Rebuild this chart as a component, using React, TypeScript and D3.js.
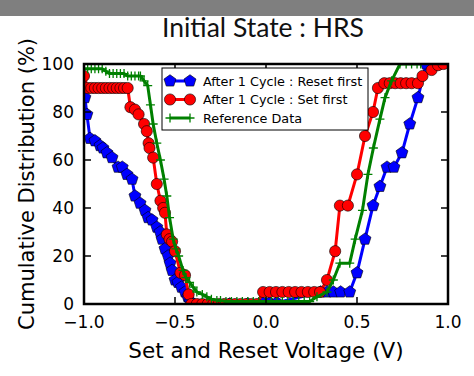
import React from "react";
import * as d3 from "d3";

const xTicks = [-1.0, -0.5, 0.0, 0.5, 1.0];
const yTicks = [0, 20, 40, 60, 80, 100];

const blueX = [-0.995, -0.984, -0.967, -0.94, -0.912, -0.896, -0.874, -0.846, -0.813, -0.79, -0.764, -0.736, -0.72, -0.692, -0.665, -0.648, -0.626, -0.6, -0.582, -0.571, -0.555, -0.538, -0.527, -0.516, -0.5, -0.484, -0.465, -0.445, -0.43, -0.415, -0.4, -0.3, -0.2, -0.1, -0.02, 0.02, 0.06, 0.3, 0.335, 0.37, 0.41, 0.46, 0.5, 0.544, 0.588, 0.626, 0.665, 0.703, 0.747, 0.79, 0.835, 0.88];
const blueY = [86, 79, 69, 68, 66, 65, 63, 61, 57, 57, 54, 52, 45, 42, 39, 36, 35, 32, 30, 27, 23, 20, 17, 14, 10, 9, 7, 5, 3, 1, 0, 0, 0, 0, 0.5, 0.5, 0.5, 5, 5, 5, 5, 5, 13, 27, 41, 49, 57, 57, 63, 75, 86, 100];

const redX = [-1.0, -0.98, -0.96, -0.94, -0.92, -0.9, -0.88, -0.86, -0.84, -0.82, -0.8, -0.78, -0.76, -0.745, -0.72, -0.7, -0.67, -0.655, -0.645, -0.64, -0.62, -0.6, -0.58, -0.565, -0.555, -0.545, -0.53, -0.516, -0.5, -0.47, -0.445, -0.425, -0.41, -0.38, -0.35, -0.32, -0.29, -0.26, -0.23, -0.2, -0.17, -0.14, -0.11, -0.08, -0.05, -0.016, 0.02, 0.055, 0.09, 0.125, 0.16, 0.195, 0.23, 0.265, 0.297, 0.335, 0.38, 0.406, 0.45, 0.5, 0.544, 0.588, 0.615, 0.65, 0.68, 0.71, 0.74, 0.77, 0.8, 0.835, 0.86, 0.91, 0.945, 0.975];
const redY = [95, 90, 90, 90, 90, 90, 90, 90, 90, 90, 90, 90, 90, 82, 81, 79, 75, 72, 67, 65, 61, 50, 43, 40, 38, 29, 27, 26, 22, 13, 12, 4, 0, 0, 0, 0, 0, 0, 0, 0, 0, 0, 0, 0, 0, 5, 5, 5, 5, 5, 5, 5, 5, 5, 5, 10, 22, 41, 41, 54, 70, 80, 90, 92, 92, 92, 92, 92, 92, 92, 95, 97.5, 99.5, 100];

const greenX = [-1.0, -0.98, -0.96, -0.94, -0.92, -0.9, -0.88, -0.86, -0.84, -0.82, -0.8, -0.78, -0.76, -0.74, -0.72, -0.7, -0.69, -0.67, -0.65, -0.635, -0.62, -0.6, -0.58, -0.56, -0.545, -0.53, -0.51, -0.495, -0.48, -0.456, -0.44, -0.42, -0.4, -0.38, -0.35, -0.325, -0.3, -0.27, -0.25, -0.22, -0.19, -0.16, -0.13, -0.1, -0.07, -0.04, 0.0, 0.03, 0.06, 0.09, 0.12, 0.15, 0.18, 0.21, 0.24, 0.28, 0.335, 0.37, 0.406, 0.46, 0.49, 0.53, 0.56, 0.59, 0.626, 0.654, 0.69, 0.736, 0.77, 0.8, 0.83, 0.85];
const greenY = [98, 98, 98, 98, 98, 98, 97, 96, 96, 96, 96, 96, 95, 95, 95, 95, 95, 93, 91, 83, 75, 67, 60, 52, 45, 36, 27, 23, 20, 14, 11, 9, 7, 5, 4, 3, 2, 1.5, 1.5, 1, 1, 1, 1, 1, 1, 1, 1, 1, 1, 1, 1, 1, 1, 1, 1, 3, 5, 10, 17, 17, 27, 39, 54, 65, 77, 86, 93, 100, 100, 100, 100, 100];

const W = 474;
const H = 376;
const L = 84, R = 448, T = 64, B = 304;

const x = d3.scaleLinear().domain([-1, 1]).range([L, R]);
const y = d3.scaleLinear().domain([0, 100]).range([B, T]);

const BLUE = "#0000ff";
const RED = "#ff0000";
const GREEN = "#008000";
const TICK_FONT = "DejaVu Sans, sans-serif";

function pentagon(cx: number, cy: number, r: number) {
  const pts: string[] = [];
  for (let i = 0; i < 5; i++) {
    const a = -Math.PI / 2 + (i * 2 * Math.PI) / 5;
    pts.push(`${cx + r * Math.cos(a)},${cy + r * Math.sin(a)}`);
  }
  return pts.join(" ");
}

function Marker({ kind, cx, cy }: { kind: string; cx: number; cy: number }) {
  if (kind === "pent")
    return <polygon points={pentagon(cx, cy, 6.3)} fill={BLUE} stroke="#000" strokeWidth={0.6} />;
  if (kind === "circ")
    return <circle cx={cx} cy={cy} r={5.6} fill={RED} stroke="#000" strokeWidth={0.6} />;
  return (
    <path d={`M${cx - 4.5},${cy}H${cx + 4.5}M${cx},${cy - 4.5}V${cy + 4.5}`} stroke={GREEN} strokeWidth={1.3} fill="none" />
  );
}

export default function App() {
  const line = d3.line<[number, number]>().x((d) => x(d[0])).y((d) => y(d[1]));
  const series = [
    { xs: blueX, ys: blueY, color: BLUE, kind: "pent", label: "After 1 Cycle : Reset first" },
    { xs: redX, ys: redY, color: RED, kind: "circ", label: "After 1 Cycle : Set first" },
    { xs: greenX, ys: greenY, color: GREEN, kind: "plus", label: "Reference Data" },
  ];
  const tickLen = 7;
  return (
    <svg width={W} height={H} style={{ position: "absolute", left: 0, top: 0, background: "#fff" }}>
      <rect x={0} y={0} width={W} height={16} fill="#7f7f7f" />
      <text x={263} y={37} textAnchor="middle" fontFamily="Lato, sans-serif" fontSize={26.5} fill="#111">
        Initial State : HRS
      </text>
      <defs>
        <clipPath id="plotclip">
          <rect x={L} y={T} width={R - L} height={B - T} />
        </clipPath>
      </defs>
      <g clipPath="url(#plotclip)">
        {series.map((s, si) => {
          const pts: [number, number][] = s.xs.map((v, i) => [v, s.ys[i]]);
          return (
            <g key={si}>
              <path d={line(pts) || ""} fill="none" stroke={s.color} strokeWidth={3} strokeLinejoin="round" />
              {pts.map((p, i) => (
                <Marker key={i} kind={s.kind} cx={x(p[0])} cy={y(p[1])} />
              ))}
            </g>
          );
        })}
      </g>
      {xTicks.map((t, i) => (
        <g key={"xt" + i}>
          <line x1={x(t)} x2={x(t)} y1={B} y2={B - tickLen} stroke="#000" strokeWidth={1.5} />
          <line x1={x(t)} x2={x(t)} y1={T} y2={T + tickLen} stroke="#000" strokeWidth={1.5} />
          <text x={x(t)} y={328} textAnchor="middle" fontFamily={TICK_FONT} fontSize={17} fill="#000">
            {d3.format(".1f")(t).replace("-", "\u2212")}
          </text>
        </g>
      ))}
      {yTicks.map((t, i) => (
        <g key={"yt" + i}>
          <line x1={L} x2={L + tickLen} y1={y(t)} y2={y(t)} stroke="#000" strokeWidth={1.5} />
          <line x1={R} x2={R - tickLen} y1={y(t)} y2={y(t)} stroke="#000" strokeWidth={1.5} />
          <text x={74} y={y(t) + 6} textAnchor="end" fontFamily={TICK_FONT} fontSize={17} fill="#000">
            {t}
          </text>
        </g>
      ))}
      <rect x={L} y={T} width={R - L} height={B - T} fill="none" stroke="#000" strokeWidth={2.5} />
      <rect x={162} y={68} width={206} height={62} fill="#fff" stroke="#000" strokeWidth={1} />
      {series.map((s, i) => {
        const ly = 81 + i * 18.5;
        return (
          <g key={"lg" + i}>
            <line x1={170} x2={190} y1={ly} y2={ly} stroke={s.color} strokeWidth={3} />
            <Marker kind={s.kind} cx={170} cy={ly} />
            <Marker kind={s.kind} cx={190} cy={ly} />
            <text x={203} y={ly + 4.5} fontFamily={TICK_FONT} fontSize={12.8} fill="#000">
              {s.label}
            </text>
          </g>
        );
      })}
      <text x={266} y={358} textAnchor="middle" fontFamily={TICK_FONT} fontSize={21.5} fill="#000">
        Set and Reset Voltage (V)
      </text>
      <text transform={`translate(34,184) rotate(-90)`} textAnchor="middle" fontFamily={TICK_FONT} fontSize={21} fill="#000">
        Cumulative Distribution (%)
      </text>
    </svg>
  );
}
